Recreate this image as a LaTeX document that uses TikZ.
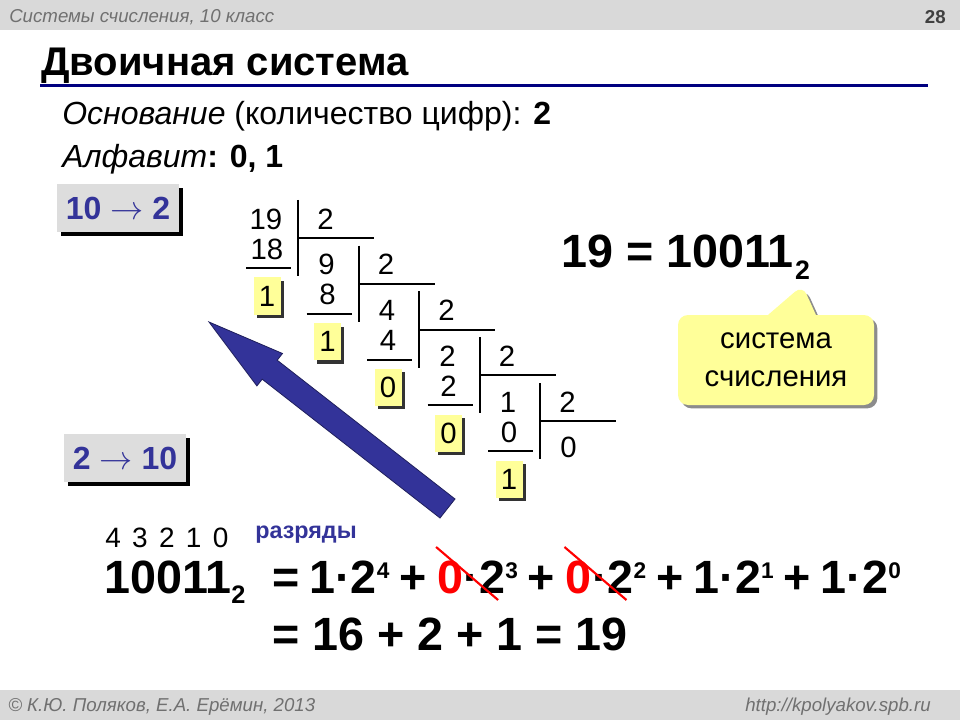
\documentclass[tikz,border=0pt]{standalone}
\usepackage{fontspec}
\setmainfont{Liberation Sans}
\usetikzlibrary{positioning,calc,shadows,shapes.callouts}
\definecolor{hdrgray}{RGB}{217,217,217}
\definecolor{hdrtext}{RGB}{112,112,112}
\definecolor{navyline}{RGB}{0,0,128}
\definecolor{slideblue}{RGB}{51,51,153}
\definecolor{remyellow}{RGB}{255,255,153}
\definecolor{boxgray}{RGB}{221,221,221}
\newcommand{\upidx}[1]{\raisebox{11pt}{\fontsize{17}{17}\selectfont #1}}
\newcommand{\lowidx}[1]{\raisebox{-8pt}{\fontsize{19}{19}\selectfont #1}}
\newcommand{\dsp}{\hspace{8.5pt}}
\newcommand{\tightsp}{\spaceskip 7.5pt\relax}
\tikzset{
	x=0.75pt,
	y=-0.75pt,
	band/.style={fill=hdrgray, draw=none},
	hdr/.style={inner sep=0pt, text=hdrtext, font=\itshape\fontsize{14}{14}\selectfont},
	body/.style={inner sep=0pt, font=\fontsize{24}{24}\selectfont},
	num/.style={inner sep=0pt, font=\fontsize{22}{22}\selectfont},
	divline/.style={line width=1.5pt},
	rembox/.style={
		fill=remyellow,
		minimum width=20.25pt,
		minimum height=27.75pt,
		inner sep=0pt,
		font=\fontsize{22}{22}\selectfont,
		drop shadow={shadow xshift=2.5pt, shadow yshift=-2.5pt, fill=black!80, opacity=1}
	},
	modebox/.style={
		fill=boxgray,
		minimum width=91.5pt,
		minimum height=36pt,
		inner sep=0pt,
		text=slideblue,
		font=\bfseries\fontsize{24}{24}\selectfont,
		drop shadow={shadow xshift=3pt, shadow yshift=-3pt, fill=black, opacity=1}
	}
}
\begin{document}
\begin{tikzpicture}[auto]
  \tikzset{
    frm/.style={inner sep=0pt, font=\bfseries\fontsize{35}{35}\selectfont},
    frmtight/.style={inner sep=0pt, font=\bfseries\fontsize{35}{35}\selectfont\tightsp},
    strike/.style={red, line width=1.6pt},
    bigarrow/.style={fill=slideblue, draw=slideblue!60!black, line width=0.6pt},
    note/.style={rectangle callout, fill=remyellow, rounded corners=7.5pt,
          minimum width=147pt, minimum height=67.5pt, align=center,
          callout pointer width=36pt,
          font=\fontsize{22}{28.5}\selectfont,
          drop shadow={shadow xshift=2.5pt, shadow yshift=-2.5pt, fill=black!45, opacity=1}}
  }
  \useasboundingbox (0,0) rectangle (960,720);
  \fill[white] (0,0) rectangle (960,720);

  % header and footer
  \fill[band] (0,0) rectangle (960,30);
  \fill[band] (0,690) rectangle (960,720);
  \node[hdr, anchor=base west] (hdrleft) at (9,23) {Системы счисления, 10 класс};
  \node[hdr, anchor=base east, text=black!75, font=\bfseries\fontsize{14}{14}\selectfont]
          (pagenum) at (946,24) {28};
  \node[hdr, anchor=base west] (ftrleft) at (8,711) {© К.Ю. Поляков, Е.А. Ерёмин, 2013};
  \node[hdr, anchor=base east] (ftrright) at (931,711) {http://kpolyakov.spb.ru};

  \node[inner sep=0pt, anchor=base west, font=\bfseries\fontsize{30}{30}\selectfont]
          (title) at (41,76) {Двоичная система};
  \draw[navyline, line width=2.25pt] (40,86) -- (928,86);

  \node[body, anchor=base west] (osn) at (62,125)
          {\textit{Основание} (количество цифр): \textbf{2}};
  \node[body, anchor=base west] (alf) at (62,168) {\textit{Алфавит}\textbf{: 0, 1}};

  \node[modebox] (todec) at (118,208) {10 $\rightarrow$ 2};
  \node[modebox] (tobin) at (125,458) {2 $\rightarrow$ 10};

  % division ladder
  \node[num] (d0) at (266,219) {19};
  \node[num] (d1) at (326.5,264.75) {9};
  \node[num] (d2) at (387,310.5) {4};
  \node[num] (d3) at (447.5,356.25) {2};
  \node[num] (d4) at (508,402) {1};
  \node[num] (d5) at (568.5,447.75) {0};

  \node[num] (q0) at (325.5,219) {2};
  \node[num] (q1) at (386,264.75) {2};
  \node[num] (q2) at (446.5,310.5) {2};
  \node[num] (q3) at (507,356.25) {2};
  \node[num] (q4) at (567.5,402) {2};

  \node[num] (p0) at (267,249) {18};
  \node[num] (p1) at (327.5,294.75) {8};
  \node[num] (p2) at (388,340.5) {4};
  \node[num] (p3) at (448.5,386.25) {2};
  \node[num] (p4) at (509,432) {0};

  \node[rembox] (r0) at (267,296) {1};
  \node[rembox] (r1) at (327.5,341.75) {1};
  \node[rembox] (r2) at (388,387.5) {0};
  \node[rembox] (r3) at (448.5,433.25) {0};
  \node[rembox] (r4) at (509,479) {1};

  \draw[divline] ($(q0)+(-27.5,-19)$) -- ++(0,76);
  \draw[divline] ($(q0)+(-27.5,19)$) -- ++(76,0);
  \draw[divline] ($(p0)+(-21,19)$) -- ++(45,0);
  \draw[divline] ($(q1)+(-27.5,-19)$) -- ++(0,76);
  \draw[divline] ($(q1)+(-27.5,19)$) -- ++(76,0);
  \draw[divline] ($(p1)+(-21,19)$) -- ++(45,0);
  \draw[divline] ($(q2)+(-27.5,-19)$) -- ++(0,76);
  \draw[divline] ($(q2)+(-27.5,19)$) -- ++(76,0);
  \draw[divline] ($(p2)+(-21,19)$) -- ++(45,0);
  \draw[divline] ($(q3)+(-27.5,-19)$) -- ++(0,76);
  \draw[divline] ($(q3)+(-27.5,19)$) -- ++(76,0);
  \draw[divline] ($(p3)+(-21,19)$) -- ++(45,0);
  \draw[divline] ($(q4)+(-27.5,-19)$) -- ++(0,76);
  \draw[divline] ($(q4)+(-27.5,19)$) -- ++(76,0);
  \draw[divline] ($(p4)+(-21,19)$) -- ++(45,0);

  \filldraw[bigarrow] (209,322) -- (282.5,353.5) -- (277.2,360.2) -- (455,499)
          -- (440,518) -- (262.2,379.2) -- (256.9,385.9) -- cycle;

  % result and its base
  \node[frm, anchor=base west] (res) at (561,268) {19 = 10011};
  \node[inner sep=0pt, anchor=base west, font=\bfseries\fontsize{20}{20}\selectfont]
          (resbase) at ($(res.base east)+(1,12)$) {2};
  \node[note, callout absolute pointer={($(resbase.south)+(0,5)$)}] (basenote)
          at (776,360) {система\\счисления};

  % back to decimal
  \node[inner sep=0pt, anchor=base west, font=\fontsize{21}{21}\selectfont]
          (digits) at (105,547) {4\dsp 3\dsp 2\dsp 1\dsp 0};
  \node[inner sep=0pt, anchor=base west, text=slideblue, font=\bfseries\fontsize{17.5}{17.5}\selectfont]
          (razr) at (255,538) {разряды};
  \node[frm, anchor=base west] (bin) at (104,593) {10011\lowidx{2}};

  \node[frmtight, anchor=base west] (f1) at (272,593) {= 1·2\upidx{4} +};
  \node[frmtight, anchor=base west, text=red] (z1) at ($(f1.base east)+(10,0)$) {0};
  \node[frmtight, anchor=base west] (f2) at (z1.base east) {·2\upidx{3} +};
  \node[frmtight, anchor=base west, text=red] (z2) at ($(f2.base east)+(10,0)$) {0};
  \node[frmtight, anchor=base west] (f3) at (z2.base east) {·2\upidx{2} + 1·2\upidx{1} + 1·2\upidx{0}};
  \draw[strike] ($(z1.base west)+(-1,-46)$) -- ++(62,53);
  \draw[strike] ($(z2.base west)+(-1,-46)$) -- ++(62,53);

  \node[frm, anchor=base west] (sum) at (272,650) {= 16 + 2 + 1 = 19};
\end{tikzpicture}
\end{document}
